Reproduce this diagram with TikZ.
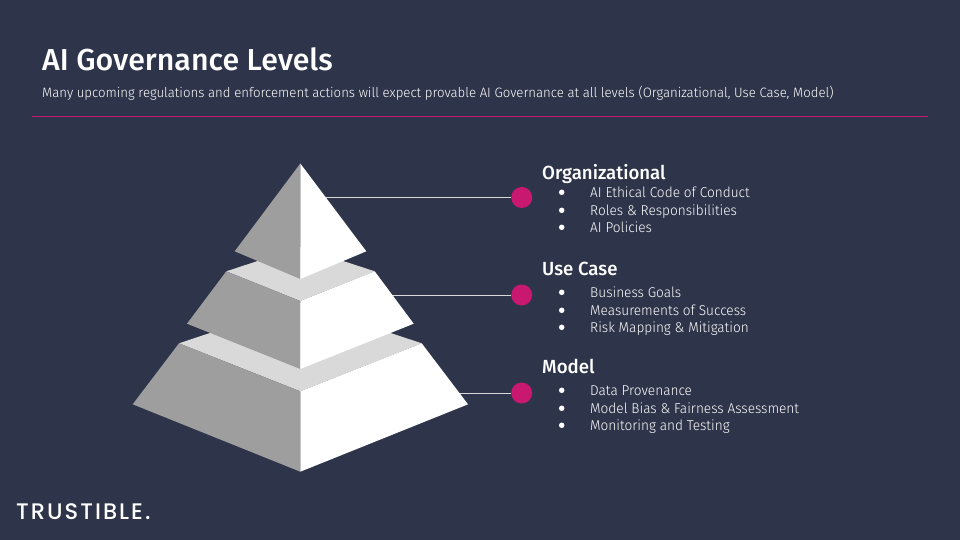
\documentclass[tikz,border=0pt]{standalone}
\usepackage{fontspec}
\setmainfont{Fira Sans}
\newfontfamily\lightf[FakeStretch=0.97]{Fira Sans Light}
\newfontfamily\itemf[FakeStretch=0.96]{Fira Sans Light}
\newfontfamily\medf{Fira Sans Medium}
\newfontfamily\headf[FakeStretch=0.98]{Fira Sans Medium}
\newfontfamily\logof[LetterSpace=9]{Poppins Medium}
\definecolor{bgc}{HTML}{2E354A}
\definecolor{pinkc}{HTML}{C9186F}
\definecolor{darkface}{HTML}{9E9E9E}
\definecolor{lightface}{HTML}{D9D9D9}
\tikzset{
  x=1pt,y=-1pt,
  leftface/.style={fill=darkface},
  rightface/.style={fill=white},
  topface/.style={fill=lightface},
  dotn/.style={circle,fill=pinkc,minimum size=21pt,inner sep=0pt},
  conn/.style={draw=lightface,line width=1pt},
  head/.style={anchor=base west,inner sep=0pt,text=white,font=\headf\fontsize{19}{19}\selectfont},
  item/.style={anchor=base west,inner sep=0pt,text=white,font=\itemf\fontsize{14.2}{14.2}\selectfont},
  bul/.style={circle,fill=white,minimum size=5.5pt,inner sep=0pt},
}
\begin{document}
\begin{tikzpicture}
\fill[bgc] (0,0) rectangle (960,540);
\useasboundingbox (0,0) rectangle (960,540);
\node[anchor=base west,inner sep=0pt,text=white,font=\medf\fontsize{30.3}{30.3}\selectfont] (title) at (42,71) {AI Governance Levels};
\node[anchor=base west,inner sep=0pt,text=white,font=\lightf\fontsize{13.6}{13.6}\selectfont] (sub) at (42,98) {Many upcoming regulations and enforcement actions will expect provable AI Governance at all levels (Organizational, Use Case, Model)};
\draw[pinkc,line width=1.2pt] (32,116.5) -- (928,116.5);

% connectors
\node[dotn] (d1) at (521.7,197.5) {};
\node[dotn] (d2) at (521.7,295) {};
\node[dotn] (d3) at (521.7,393) {};
\coordinate (c1) at (320,197.5);
\coordinate (c2) at (385,295.5);
\coordinate (c3) at (450,393.5);
\draw[conn] (c1) -- (c1 -| d1.west);
\draw[conn] (c2) -- (c2 -| d2.west);
\draw[conn] (c3) -- (c3 -| d3.west);

% bottom tier
\fill[topface] (179,343.3) -- (300.3,303) -- (421.7,343.3) -- (300.3,391.3) -- cycle;
\fill[leftface] (179,343.3) -- (300.3,391.3) -- (300.3,471.7) -- (132.7,404.3) -- cycle;
\fill[rightface] (421.7,343.3) -- (300.3,391.3) -- (300.3,471.7) -- (468,404.3) -- cycle;
% middle tier
\fill[topface] (226.3,271.3) -- (300.3,247) -- (374.7,271.3) -- (300.3,301) -- cycle;
\fill[leftface] (226.3,271.3) -- (300.3,301) -- (300.3,369) -- (187,323.7) -- cycle;
\fill[rightface] (374.7,271.3) -- (300.3,301) -- (300.3,369) -- (413.7,323.7) -- cycle;
% top tier
\fill[leftface] (300.3,163.5) -- (300.3,279) -- (234.7,251.3) -- cycle;
\fill[rightface] (300.3,163.5) -- (300.3,279) -- (366.3,251.3) -- cycle;

% text
\node[head] (h1) at (542,179) {Organizational};
\node[head] (h2) at (542,275) {Use Case};
\node[head] (h3) at (542,373) {Model};
\foreach \n/\y/\t in {a/197/AI Ethical Code of Conduct,b/215/Roles \& Responsibilities,c/232/AI Policies,
  d/297/Business Goals,e/315/Measurements of Success,f/332/Risk Mapping \& Mitigation,
  g/395/Data Provenance,h/413/Model Bias \& Fairness Assessment,i/430/Monitoring and Testing}{
  \node[bul] (b\n) at (561.7,\y-4.7) {};
  \node[item] (t\n) at (590,\y) {\t};
}
\node[anchor=base west,inner sep=0pt,text=white,font=\logof\fontsize{22.5}{22.5}\selectfont] (logo) at (16,519) {TRUSTIBLE.};
\end{tikzpicture}
\end{document}
